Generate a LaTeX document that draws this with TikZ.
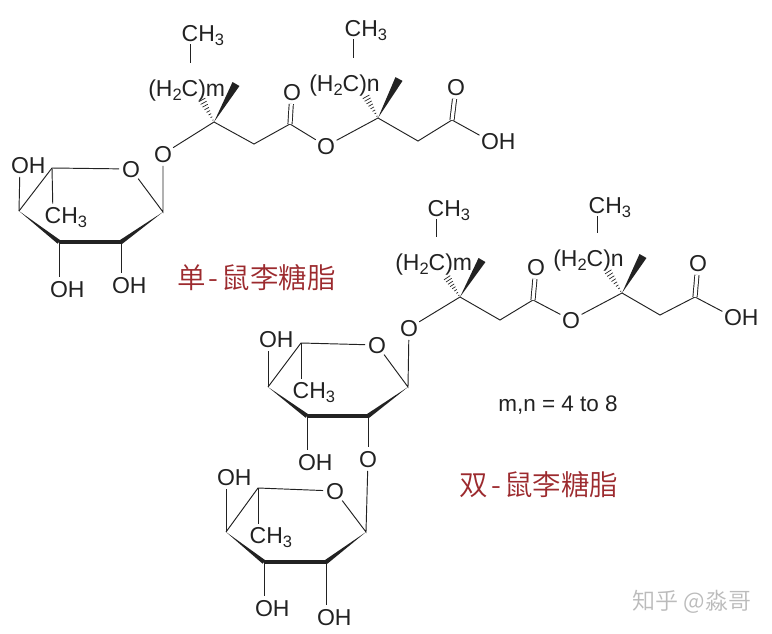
\documentclass[tikz,border=0pt]{standalone}
\usepackage{fontspec}
\usetikzlibrary{calc}
\setmainfont{Liberation Sans}
\newfontfamily\cjk{Noto Sans CJK SC DemiLight}
\definecolor{ink}{HTML}{222222}
\definecolor{namered}{HTML}{9C2A2E}
\definecolor{markgray}{HTML}{BBBBBB}
\newcommand{\subb}[1]{\raisebox{-4.5pt}{\fontsize{16.5}{16}\selectfont #1}}
\newcommand{\OH}{O\rlap{H}}
\newcommand{\CHH}{C\rlap{H\subb{3}}}
\newcommand{\grpm}{\llap{(H\subb{2}}C\rlap{)m}}
\newcommand{\grpn}{\llap{(H\subb{2}}C\rlap{)n}}
% thin-to-thick wedge from #1 (narrow end) to #2, half width #3
\newcommand{\wdg}[3]{\fill[ink] (#1) -- ($(#2)!#3!90:(#1)$) -- ($(#2)!#3!-90:(#1)$) -- cycle;}
% hashed bond from #1 to #2
\newcommand{\hsh}[2]{\foreach \t/\w in {0.08/0.6,0.2/1.0,0.32/1.5,0.44/2.0,0.56/2.5,0.68/3.0,0.8/3.4,0.92/3.8}{\draw[ink,line width=0.7pt] ($(#1)!\t!(#2)!\w pt!90:(#2)$) -- ($(#1)!\t!(#2)!\w pt!-90:(#2)$);}}
% bold front edge of a sugar ring
\newcommand{\frontedge}[4]{\wdg{#1}{#2}{2.2pt}\wdg{#4}{#3}{2.2pt}\draw[ink,line width=3.8pt] (#2) -- (#3);}
\tikzset{
  x=1pt,y=-1pt,
  atom/.style={circle,inner sep=0pt,outer sep=0pt,text=ink,font=\fontsize{23}{24}\selectfont,text height=16pt,text depth=0pt},
  bond/.style={draw=ink,line width=0.95pt},
  dbl/.style={draw=ink,line width=0.95pt,double,double distance=3.2pt},
  gap/.style={shorten >=25pt},
  cjklabel/.style={inner sep=0pt,text=namered,font=\cjk\fontsize{28.5}{30}\selectfont},
}
\begin{document}
\begin{tikzpicture}
\useasboundingbox (0,0) rectangle (772,633);
% ---------- first molecule ----------
\coordinate (ac5) at (52,168);
\coordinate (ac1) at (163,212);
\coordinate (ac2) at (121,242);
\coordinate (ac3) at (59,242);
\coordinate (ac4) at (19,211);
\node[atom] (aor) at (131,169) {O};
\node[atom] (aoe) at (163,154) {O};
\node[atom] (ame) at (53,215) {\CHH};
\node[atom] (ao4) at (20,165) {\OH};
\node[atom] (ao3) at (59,289) {\OH};
\node[atom] (ao2) at (121,285) {\OH};
\frontedge{ac4}{ac3}{ac2}{ac1}
\draw[bond] (ac4) -- (ac5) -- (aor) -- (ac1) -- (aoe);
\draw[bond] (ac5) -- (ame);
\draw[bond] (ac4) -- (ao4);
\draw[bond] (ac3) -- (ao3);
\draw[bond] (ac2) -- (ao2);
\coordinate (as1) at (214,122);
\coordinate (aw1) at (236,84);
\coordinate (ah1) at (201,98);
\coordinate (ach1) at (254,144);
\coordinate (acc1) at (290,124);
\coordinate (as2) at (378,118);
\coordinate (aw2) at (399,79);
\coordinate (ah2) at (365,95);
\coordinate (ach2) at (418,141);
\coordinate (acc2) at (452,120);
\node[atom] (aco1) at (292,92) {O};
\node[atom] (aoes) at (326,146) {O};
\node[atom] (aco2) at (456,87) {O};
\node[atom] (aoh) at (490,141) {\OH};
\node[atom] (ag1) at (190,88) {\grpm};
\node[atom] (ag2) at (351,83) {\grpn};
\node[atom] (ame1) at (190,33) {\CHH};
\node[atom] (ame2) at (353,28) {\CHH};
\draw[bond] (aoe) -- (as1) -- (ach1) -- (acc1) -- (aoes) -- (as2) -- (ach2) -- (acc2) -- (aoh);
\draw[dbl] (acc1) -- (aco1);
\draw[dbl] (acc2) -- (aco2);
\wdg{as1}{aw1}{4pt}
\wdg{as2}{aw2}{4pt}
\hsh{as1}{ah1}
\hsh{as2}{ah2}
\draw[bond,gap] (ame1) -- (ame1 |- ag1);
\draw[bond,gap] (ame2) -- (ame2 |- ag2);
% ---------- second molecule, upper ring ----------
\coordinate (bc5) at (301,343);
\coordinate (bc1) at (408,387);
\coordinate (bc2) at (368,416);
\coordinate (bc3) at (307,416);
\coordinate (bc4) at (268,387);
\node[atom] (bor) at (377,345) {O};
\node[atom] (boe) at (409,328) {O};
\node[atom] (bme) at (301,390) {\CHH};
\node[atom] (bo4) at (268,339) {\OH};
\node[atom] (bo3) at (307,462) {\OH};
\node[atom] (bog) at (368,459) {O};
\frontedge{bc4}{bc3}{bc2}{bc1}
\draw[bond] (bc4) -- (bc5) -- (bor) -- (bc1) -- (boe);
\draw[bond] (bc5) -- (bme);
\draw[bond] (bc4) -- (bo4);
\draw[bond] (bc3) -- (bo3);
\draw[bond] (bc2) -- (bog);
\coordinate (bs1) at (460,297);
\coordinate (bw1) at (482,260);
\coordinate (bh1) at (446,276);
\coordinate (bch1) at (500,320);
\coordinate (bcc1) at (533,300);
\coordinate (bs2) at (622,293);
\coordinate (bw2) at (643,256);
\coordinate (bh2) at (607,270);
\coordinate (bch2) at (660,315);
\coordinate (bcc2) at (695,297);
\node[atom] (bco1) at (536,267) {O};
\node[atom] (boes) at (571,320) {O};
\node[atom] (bco2) at (698,263) {O};
\node[atom] (boh) at (733,317) {\OH};
\node[atom] (bg1) at (437,262) {\grpm};
\node[atom] (bg2) at (595,258) {\grpn};
\node[atom] (bme1) at (436,208) {\CHH};
\node[atom] (bme2) at (597,205) {\CHH};
\draw[bond] (boe) -- (bs1) -- (bch1) -- (bcc1) -- (boes) -- (bs2) -- (bch2) -- (bcc2) -- (boh);
\draw[dbl] (bcc1) -- (bco1);
\draw[dbl] (bcc2) -- (bco2);
\wdg{bs1}{bw1}{4pt}
\wdg{bs2}{bw2}{4pt}
\hsh{bs1}{bh1}
\hsh{bs2}{bh2}
\draw[bond,gap] (bme1) -- (bme1 |- bg1);
\draw[bond,gap] (bme2) -- (bme2 |- bg2);
% ---------- second molecule, lower ring ----------
\coordinate (cc5) at (258,488);
\coordinate (cc1) at (366,532);
\coordinate (cc2) at (326,562);
\coordinate (cc3) at (264,562);
\coordinate (cc4) at (226,532);
\node[atom] (cor) at (335,491) {O};
\node[atom] (cme) at (258,535) {\CHH};
\node[atom] (co4) at (226,477) {\OH};
\node[atom] (co3) at (264,608) {\OH};
\node[atom] (co2) at (326,617) {\OH};
\frontedge{cc4}{cc3}{cc2}{cc1}
\draw[bond] (cc4) -- (cc5) -- (cor) -- (cc1) -- (bog);
\draw[bond] (cc5) -- (cme);
\draw[bond] (cc4) -- (co4);
\draw[bond] (cc3) -- (co3);
\draw[bond] (cc2) -- (co2);
% ---------- captions ----------
\node[inner sep=0pt,text=ink,font=\fontsize{22.5}{24}\selectfont] (range) at (558,405) {m,n = 4 to 8};
\node[cjklabel] (mono) at (256.5,278) {单\hspace{3pt}-\hspace{3pt}鼠李糖脂};
\node[cjklabel] (di) at (539,485) {双\hspace{3pt}-\hspace{3pt}鼠李糖脂};
\node[inner sep=0pt,text=markgray,font=\cjk\fontsize{23}{24}\selectfont] (mark) at (692,602) {知乎\ @淼哥};
\end{tikzpicture}
\end{document}
